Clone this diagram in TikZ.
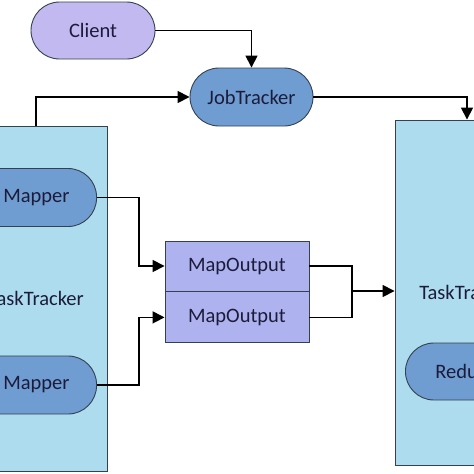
\documentclass[tikz,border=0pt]{standalone}
\usepackage{fontspec}
\setmainfont{Carlito}
\usetikzlibrary{arrows.meta,shapes.misc,calc}
\definecolor{clientfill}{HTML}{C2B9F1}
\definecolor{jobfill}{HTML}{6F9DD2}
\definecolor{ttfill}{HTML}{ADDCEF}
\definecolor{mofill}{HTML}{AEB3F0}
\definecolor{outl}{HTML}{34414F}
\definecolor{txt}{HTML}{1C1C3A}
\tikzset{
  x=1pt,y=-1pt,
  every node/.style={font=\fontsize{20.5}{24}\selectfont, text=txt},
  pill/.style={draw=outl, line width=0.9pt, rounded rectangle, inner sep=0pt},
  halfpill/.style={draw=outl, line width=0.9pt, rectangle, rounded corners=28.5pt, minimum height=58pt, inner sep=0pt, fill=jobfill},
  tracker/.style={draw=outl, line width=0.9pt, rectangle, fill=ttfill, inner sep=0pt},
  mobox/.style={draw=outl, line width=0.9pt, rectangle, fill=mofill, minimum width=144pt, inner sep=0pt},
  conn/.style={line width=1.6pt, -{Triangle[length=12pt,width=12pt]}},
  plain/.style={line width=1.6pt}
}
\begin{document}
\begin{tikzpicture}
\useasboundingbox (0,0) rectangle (474,474);
\fill[white] (0,0) rectangle (474,474);
% trackers
\node[tracker, minimum width=142pt, minimum height=345pt] (tt1) at (36,298.5) {TaskTracker};
\node[tracker, minimum width=144pt, minimum height=345pt] (tt2) at (467,292.5) {TaskTracker};
% client and jobtracker
\node[pill, fill=clientfill, minimum width=124pt, minimum height=57pt] (client) at (93,30.5) {Client};
\node[pill, fill=jobfill, minimum width=123pt, minimum height=58pt] (job) at (251.5,97) {JobTracker};
% mappers
\node[halfpill, anchor=east, text width=96pt, align=right, inner xsep=27pt] (m1) at (97,197.5) {Mapper};
\node[halfpill, anchor=east, text width=96pt, align=right, inner xsep=27pt] (m2) at (97,385) {Mapper};
% reducer
\node[halfpill, anchor=west, text width=120pt, align=left, inner xsep=30pt, minimum height=57pt] (red) at (405,371.5) {Reducer};
% map outputs
\node[mobox, minimum height=50pt] (mo1) at (237,266) {MapOutput};
\node[mobox, minimum height=51pt, anchor=north] (mo2) at (mo1.south) {MapOutput};
% connectors
\draw[conn] (client.east) -| (job.north);
\draw[conn] (tt1.north) |- (job.west);
\draw[conn] (job.east) -| (tt2.north);
\coordinate (b1) at (139,0);
\draw[conn] (m1.east) -| (b1 |- m1.east) |- (mo1.west);
\draw[conn] (m2.east) -| (b1 |- m2.east) |- (mo2.west);
\coordinate (j) at (352,291);
\draw[plain] (mo1.east) -| (j);
\draw[plain] (mo2.east) -| (j);
\draw[conn] (j) -- (tt2.west |- j);
\end{tikzpicture}
\end{document}
